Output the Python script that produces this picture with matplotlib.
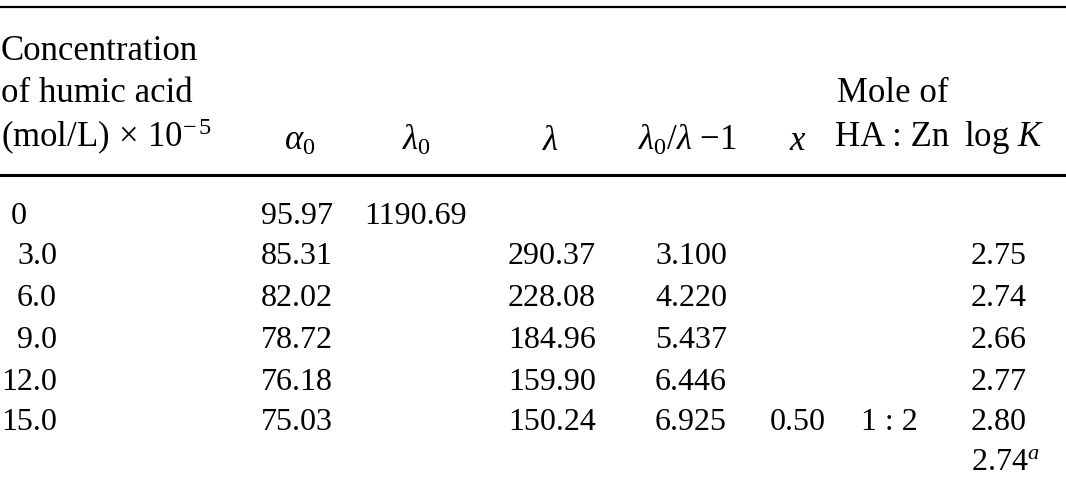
import matplotlib
matplotlib.use("Agg")
import matplotlib.pyplot as plt

plt.rcParams['font.family'] = ['Liberation Serif', 'DejaVu Serif']
plt.rcParams['mathtext.fontset'] = 'custom'
plt.rcParams['mathtext.rm'] = 'Liberation Serif'
plt.rcParams['mathtext.it'] = 'Liberation Serif:italic'

conc = ["0", "3.0", "6.0", "9.0", "12.0", "15.0", ""]
alpha0 = ["95.97", "85.31", "82.02", "78.72", "76.18", "75.03", ""]
lam0 = ["1190.69", "", "", "", "", "", ""]
lam = ["", "290.37", "228.08", "184.96", "159.90", "150.24", ""]
ratio = ["", "3.100", "4.220", "5.437", "6.446", "6.925", ""]
xval = ["", "", "", "", "", "0.50", ""]
mole = ["", "", "", "", "", "1 : 2", ""]
logk = ["", "2.75", "2.74", "2.66", "2.77", "2.80", r"2.74$^{a}$"]

fig = plt.figure(figsize=(10.66, 5.04), dpi=100)
ax = fig.add_axes([0, 0, 1, 1])
ax.set_xlim(0, 1066); ax.set_ylim(504, 0); ax.axis('off')
fh = 25
fs = 23

ax.plot([0, 1075], [7, 7], color='black', lw=1.6)
ax.plot([0, 1075], [175, 175], color='black', lw=2.2)

ax.text(1, 52, "Concentration", fontsize=fh, va='center')
ax.text(1, 93, "of humic acid", fontsize=fh, va='center')
ax.text(1, 137, r"(mol/L)$\,\times\,$10$^{-\,5}$", fontsize=fh, va='center')
hy = 141
ax.text(300, hy, r"$\alpha_0$", fontsize=fh, va='center', ha='center')
ax.text(417, hy, r"$\lambda_0$", fontsize=fh, va='center', ha='center')
ax.text(551, hy, r"$\lambda$", fontsize=fh, va='center', ha='center')
ax.text(687, hy, r"$\lambda_0/\lambda\ {-}1$", fontsize=fh, va='center', ha='center')
ax.text(798, hy, r"$x$", fontsize=fh, va='center', ha='center')
ax.text(893, 93, "Mole of", fontsize=fh, va='center', ha='center')
ax.text(892, 137, "HA : Zn", fontsize=fh, va='center', ha='center')
ax.text(1004, 137, r"log $K$", fontsize=fh, va='center', ha='center')

ys = [217, 257, 299, 340, 382, 423, 462]
cols = [(alpha0, 333), (lam0, 467), (lam, 596)]
lcols = [(ratio, 655), (xval, 770), (logk, 971)]
for i, y in enumerate(ys):
    c = conc[i]
    if c:
        ax.text(27 if c == "0" else 57, y, c, fontsize=fs, va='center', ha='right')
    for arr, x in cols:
        if arr[i]:
            ax.text(x, y, arr[i], fontsize=fs, va='center', ha='right')
    for arr, x in lcols:
        if arr[i]:
            ax.text(x, y, arr[i], fontsize=fs, va='center', ha='left')
    if mole[i]:
        ax.text(889, y, mole[i], fontsize=fs, va='center', ha='center')

fig.savefig("out.png", dpi=100)
